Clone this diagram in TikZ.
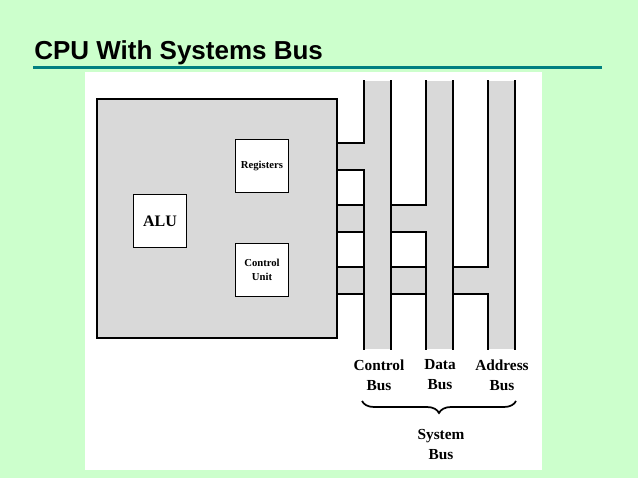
\documentclass[tikz,border=0pt]{standalone}
\usepackage{fontspec}
\setmainfont{Liberation Serif}
\newfontfamily\titlefont{Liberation Sans}
\usetikzlibrary{decorations.pathreplacing}
\definecolor{bg}{HTML}{CCFFCC}
\definecolor{teal}{HTML}{008080}
\definecolor{busgray}{HTML}{D9D9D9}
\begin{document}
\begin{tikzpicture}[x=0.75pt,y=-0.75pt,
  ln/.style={line width=1.5pt,line cap=rect},
  box/.style={draw,line width=1.2pt,fill=white,minimum width=40pt,minimum height=40pt,inner sep=0pt,align=center},
  lbl/.style={font=\bfseries\fontsize{11.5}{15}\selectfont,align=center}]
\useasboundingbox (0,0) rectangle (638,478);
\fill[bg] (0,0) rectangle (638,478);
\node[anchor=base west,font=\titlefont\bfseries\fontsize{19.5}{22}\selectfont,inner sep=0] (title) at (34,60) {CPU With Systems Bus};
\fill[teal] (33,66) rectangle (602,69);
\fill[white] (85,72) rectangle (542,470);
% buses fill
\fill[busgray] (364,81) rectangle (391,349);
\fill[busgray] (426,81) rectangle (453,349);
\fill[busgray] (488,81) rectangle (515,349);
% connectors fill
\fill[busgray] (337,143) rectangle (366,170);
\fill[busgray] (337,205) rectangle (364,232);
\fill[busgray] (391,205) rectangle (428,232);
\fill[busgray] (337,267) rectangle (364,294);
\fill[busgray] (391,267) rectangle (426,294);
\fill[busgray] (453,267) rectangle (490,294);
% bus lines
\draw[ln] (364,81) -- (364,143) (364,170) -- (364,349) (391,81) -- (391,349);
\draw[ln] (426,81) -- (426,205) (426,232) -- (426,349) (453,81) -- (453,349);
\draw[ln] (488,81) -- (488,267) (488,294) -- (488,349) (515,81) -- (515,349);
% connector lines
\draw[ln] (337,143) -- (364,143) (337,170) -- (364,170);
\draw[ln] (337,205) -- (364,205) (337,232) -- (364,232) (391,205) -- (426,205) (391,232) -- (426,232);
\draw[ln] (337,267) -- (364,267) (337,294) -- (364,294) (391,267) -- (426,267) (391,294) -- (426,294) (453,267) -- (488,267) (453,294) -- (488,294);
% CPU
\draw[ln,fill=busgray] (97,99) rectangle (337,338);
\node[box,font=\bfseries\fontsize{12}{14}\selectfont] (alu) at (160,221) {ALU};
\node[box,font=\bfseries\fontsize{8}{9}\selectfont] (reg) at (262,166) {Registers};
\node[box,font=\bfseries\fontsize{8}{10}\selectfont] (cu) at (262,270) {Control\\Unit};
% labels
\node[lbl] (cb) at (379,375) {Control\\Bus};
\node[lbl] (db) at (440,375) {Data\\Bus};
\node[lbl] (ab) at (502,375) {Address\\Bus};
\coordinate (bl) at (362,401);
\coordinate (br) at (516,401);
\draw[line width=1.3pt,decorate,decoration={brace,mirror,amplitude=9pt}] (bl) -- (br);
\node[lbl] (sb) at (441,445) {System\\Bus};
\end{tikzpicture}
\end{document}
